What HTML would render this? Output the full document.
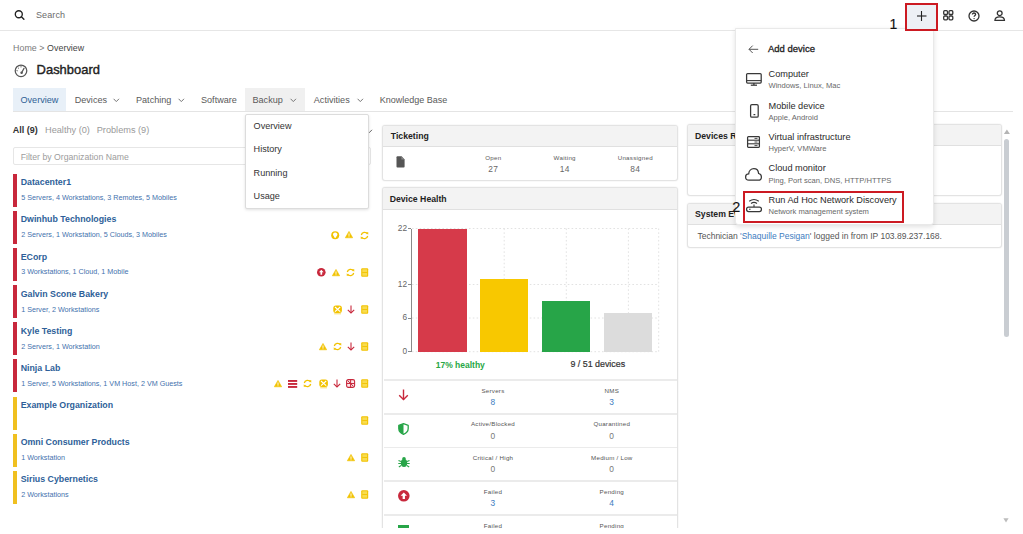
<!DOCTYPE html><html><head><meta charset="utf-8"><style>
html,body{margin:0;padding:0;background:#fff;}
body{width:1023px;height:534px;overflow:hidden;position:relative;font-family:"Liberation Sans",sans-serif;}
.t{position:absolute;white-space:nowrap;}
.r{position:absolute;}
svg.r{overflow:visible}
</style></head><body>
<svg class="r" style="left:13.00px;top:8.00px" width="14" height="14" viewBox="0 0 14 14"><circle cx="5.8" cy="6.2" r="3.5" fill="none" stroke="#222" stroke-width="1.35"/><line x1="8.4" y1="8.8" x2="10.9" y2="11.3" stroke="#222" stroke-width="1.4" stroke-linecap="round"/></svg>
<div class="t" style="left:36.00px;top:11.18px;font-size:9px;line-height:9px;color:#6b6b6b;font-weight:normal;letter-spacing:0.1px;">Search</div>
<div class="r" style="left:0.00px;top:30.00px;width:1023.00px;height:1.00px;background:#e6e6e6"></div>
<svg class="r" style="left:942.50px;top:10.20px" width="11" height="11" viewBox="0 0 11 11"><rect x="0.7" y="0.7" width="3.8" height="3.8" rx="1" fill="none" stroke="#333" stroke-width="1.3"/><rect x="6" y="0.7" width="3.8" height="3.8" rx="1" fill="none" stroke="#333" stroke-width="1.3"/><rect x="0.7" y="6" width="3.8" height="3.8" rx="1" fill="none" stroke="#333" stroke-width="1.3"/><rect x="6" y="6" width="3.8" height="3.8" rx="1" fill="none" stroke="#333" stroke-width="1.3"/></svg>
<svg class="r" style="left:967.50px;top:10.00px" width="12" height="12" viewBox="0 0 12 12"><circle cx="6" cy="6" r="5" fill="none" stroke="#333" stroke-width="1.3"/><path d="M4.4 4.6 C4.4 3.5 5.1 3 6 3 C6.9 3 7.6 3.6 7.6 4.4 C7.6 5.4 6.1 5.6 6.1 6.8" fill="none" stroke="#333" stroke-width="1.3"/><circle cx="6.1" cy="8.6" r="0.7" fill="#333"/></svg>
<svg class="r" style="left:994.00px;top:10.00px" width="12" height="12" viewBox="0 0 12 12"><circle cx="5.7" cy="3.2" r="2.4" fill="none" stroke="#333" stroke-width="1.3"/><path d="M0.9 10.4 C0.9 7.6 3 6.8 5.7 6.8 C8.4 6.8 10.5 7.6 10.5 10.4 Z" fill="none" stroke="#333" stroke-width="1.3" stroke-linejoin="round"/></svg>
<div class="t" style="left:13.00px;top:44.11px;font-size:8.85px;line-height:8.85px;color:#444;font-weight:normal;letter-spacing:0.05px;"><span style="color:#7a7a7a">Home &gt;</span> Overview</div>
<svg class="r" style="left:13.50px;top:63.50px" width="14" height="14" viewBox="0 0 14 14"><circle cx="7" cy="6.8" r="5.8" fill="none" stroke="#555" stroke-width="1.25"/><line x1="7.6" y1="8.8" x2="10" y2="4.4" stroke="#555" stroke-width="1.2" stroke-linecap="round"/><circle cx="7.6" cy="8.8" r="1.25" fill="#555"/><line x1="7" y1="2.2" x2="7" y2="3.4" stroke="#555" stroke-width="1"/><line x1="4.2" y1="3.9" x2="5" y2="4.6" stroke="#555" stroke-width="1"/><line x1="2.5" y1="6.6" x2="3.7" y2="6.8" stroke="#555" stroke-width="1"/></svg>
<div class="t" style="left:36.60px;top:64.04px;font-size:12.95px;line-height:12.95px;color:#222;font-weight:normal;letter-spacing:0px;-webkit-text-stroke:0.4px #222">Dashboard</div>
<div class="r" style="left:13.00px;top:111.00px;width:1000.00px;height:1.00px;background:#e4e4e4"></div>
<div class="r" style="left:13.00px;top:88.40px;width:53.30px;height:22.60px;background:#e8f0f8"></div>
<div class="r" style="left:245.40px;top:88.00px;width:59.60px;height:23.00px;background:#f0f0f0"></div>
<div class="t" style="left:20.50px;top:96.40px;font-size:9.1px;line-height:9.1px;color:#2e5f95;font-weight:normal;letter-spacing:0px;">Overview</div>
<div class="t" style="left:74.70px;top:96.40px;font-size:9.1px;line-height:9.1px;color:#5a5a5a;font-weight:normal;letter-spacing:0px;">Devices</div>
<svg class="r" style="left:113.00px;top:98.00px" width="7" height="5" viewBox="0 0 7 5"><polyline points="0.6,0.8 3.3,3.6 6,0.8" fill="none" stroke="#777" stroke-width="1"/></svg>
<div class="t" style="left:136.00px;top:96.40px;font-size:9.1px;line-height:9.1px;color:#5a5a5a;font-weight:normal;letter-spacing:0px;">Patching</div>
<svg class="r" style="left:178.00px;top:98.00px" width="7" height="5" viewBox="0 0 7 5"><polyline points="0.6,0.8 3.3,3.6 6,0.8" fill="none" stroke="#777" stroke-width="1"/></svg>
<div class="t" style="left:201.00px;top:96.40px;font-size:9.1px;line-height:9.1px;color:#5a5a5a;font-weight:normal;letter-spacing:0px;">Software</div>
<div class="t" style="left:252.50px;top:96.40px;font-size:9.1px;line-height:9.1px;color:#5a5a5a;font-weight:normal;letter-spacing:0px;">Backup</div>
<svg class="r" style="left:290.30px;top:98.00px" width="7" height="5" viewBox="0 0 7 5"><polyline points="0.6,0.8 3.3,3.6 6,0.8" fill="none" stroke="#777" stroke-width="1"/></svg>
<div class="t" style="left:313.80px;top:96.40px;font-size:9.1px;line-height:9.1px;color:#5a5a5a;font-weight:normal;letter-spacing:0px;">Activities</div>
<svg class="r" style="left:357.00px;top:98.00px" width="7" height="5" viewBox="0 0 7 5"><polyline points="0.6,0.8 3.3,3.6 6,0.8" fill="none" stroke="#777" stroke-width="1"/></svg>
<div class="t" style="left:379.80px;top:96.48px;font-size:9.0px;line-height:9.0px;color:#5a5a5a;font-weight:normal;letter-spacing:0px;">Knowledge Base</div>
<div class="t" style="left:12.70px;top:125.98px;font-size:9px;line-height:9px;color:#333;font-weight:bold;letter-spacing:0px;">All (9)</div>
<div class="t" style="left:45.00px;top:125.81px;font-size:9.2px;line-height:9.2px;color:#9a9a9a;font-weight:normal;letter-spacing:0px;">Healthy (0)</div>
<div class="t" style="left:96.70px;top:125.81px;font-size:9.2px;line-height:9.2px;color:#9a9a9a;font-weight:normal;letter-spacing:0px;">Problems (9)</div>
<svg class="r" style="left:365.50px;top:128.50px" width="7" height="5" viewBox="0 0 7 5"><polyline points="0.6,0.8 3.3,3.6 6,0.8" fill="none" stroke="#666" stroke-width="1"/></svg>
<div class="r" style="left:12.70px;top:147.20px;width:358.70px;height:18.20px;box-sizing:border-box;border:1px solid #e6e6e6;border-radius:2px;background:#fff"></div>
<div class="t" style="left:20.70px;top:152.64px;font-size:8.7px;line-height:8.7px;color:#9d9d9d;font-weight:normal;letter-spacing:0px;">Filter by Organization Name</div>
<div class="r" style="left:12.90px;top:173.90px;width:4.10px;height:33.00px;background:#c8283c"></div>
<div class="t" style="left:20.70px;top:178.35px;font-size:8.8px;line-height:8.8px;color:#2e5f99;font-weight:bold;letter-spacing:0px;">Datacenter1</div>
<div class="t" style="left:21.20px;top:194.21px;font-size:7.2px;line-height:7.2px;color:#3f71ad;font-weight:normal;letter-spacing:0px;">5 Servers, 4 Workstations, 3 Remotes, 5 Mobiles</div>
<div class="r" style="left:12.90px;top:211.00px;width:4.10px;height:33.00px;background:#c8283c"></div>
<div class="t" style="left:20.70px;top:215.45px;font-size:8.8px;line-height:8.8px;color:#2e5f99;font-weight:bold;letter-spacing:0px;">Dwinhub Technologies</div>
<div class="t" style="left:21.20px;top:231.31px;font-size:7.2px;line-height:7.2px;color:#3f71ad;font-weight:normal;letter-spacing:0px;">2 Servers, 1 Workstation, 5 Clouds, 3 Mobiles</div>
<div class="r" style="left:12.90px;top:248.10px;width:4.10px;height:33.00px;background:#c8283c"></div>
<div class="t" style="left:20.70px;top:252.55px;font-size:8.8px;line-height:8.8px;color:#2e5f99;font-weight:bold;letter-spacing:0px;">ECorp</div>
<div class="t" style="left:21.20px;top:268.41px;font-size:7.2px;line-height:7.2px;color:#3f71ad;font-weight:normal;letter-spacing:0px;">3 Workstations, 1 Cloud, 1 Mobile</div>
<div class="r" style="left:12.90px;top:285.20px;width:4.10px;height:33.00px;background:#c8283c"></div>
<div class="t" style="left:20.70px;top:289.65px;font-size:8.8px;line-height:8.8px;color:#2e5f99;font-weight:bold;letter-spacing:0px;">Galvin Scone Bakery</div>
<div class="t" style="left:21.20px;top:305.51px;font-size:7.2px;line-height:7.2px;color:#3f71ad;font-weight:normal;letter-spacing:0px;">1 Server, 2 Workstations</div>
<div class="r" style="left:12.90px;top:322.30px;width:4.10px;height:33.00px;background:#c8283c"></div>
<div class="t" style="left:20.70px;top:326.75px;font-size:8.8px;line-height:8.8px;color:#2e5f99;font-weight:bold;letter-spacing:0px;">Kyle Testing</div>
<div class="t" style="left:21.20px;top:342.61px;font-size:7.2px;line-height:7.2px;color:#3f71ad;font-weight:normal;letter-spacing:0px;">2 Servers, 1 Workstation</div>
<div class="r" style="left:12.90px;top:359.40px;width:4.10px;height:33.00px;background:#c8283c"></div>
<div class="t" style="left:20.70px;top:363.85px;font-size:8.8px;line-height:8.8px;color:#2e5f99;font-weight:bold;letter-spacing:0px;">Ninja Lab</div>
<div class="t" style="left:21.20px;top:379.71px;font-size:7.2px;line-height:7.2px;color:#3f71ad;font-weight:normal;letter-spacing:0px;">1 Server, 5 Workstations, 1 VM Host, 2 VM Guests</div>
<div class="r" style="left:12.90px;top:396.50px;width:4.10px;height:33.00px;background:#f0c020"></div>
<div class="t" style="left:20.70px;top:400.95px;font-size:8.8px;line-height:8.8px;color:#2e5f99;font-weight:bold;letter-spacing:0px;">Example Organization</div>
<div class="r" style="left:12.90px;top:433.60px;width:4.10px;height:33.00px;background:#f0c020"></div>
<div class="t" style="left:20.70px;top:438.05px;font-size:8.8px;line-height:8.8px;color:#2e5f99;font-weight:bold;letter-spacing:0px;">Omni Consumer Products</div>
<div class="t" style="left:21.20px;top:453.91px;font-size:7.2px;line-height:7.2px;color:#3f71ad;font-weight:normal;letter-spacing:0px;">1 Workstation</div>
<div class="r" style="left:12.90px;top:470.70px;width:4.10px;height:33.00px;background:#f0c020"></div>
<div class="t" style="left:20.70px;top:475.15px;font-size:8.8px;line-height:8.8px;color:#2e5f99;font-weight:bold;letter-spacing:0px;">Sirius Cybernetics</div>
<div class="t" style="left:21.20px;top:491.01px;font-size:7.2px;line-height:7.2px;color:#3f71ad;font-weight:normal;letter-spacing:0px;">2 Workstations</div>
<svg class="r" style="left:330.50px;top:231.00px" width="9" height="9" viewBox="0 0 9 9"><circle cx="4.2" cy="4.2" r="4" fill="#f2c200"/><path d="M4.2 1.6 C5.7 1.6 6.4 2.6 6.4 3.6 C6.4 4.6 5.2 5.4 4.9 6.7 L3.5 6.7 C3.2 5.4 2 4.6 2 3.6 C2 2.6 2.7 1.6 4.2 1.6 Z" fill="#fff"/></svg>
<svg class="r" style="left:345.30px;top:231.40px" width="8" height="7.2" viewBox="0 0 8 7.2"><path d="M4 0.4 L7.7 6.8 L0.3 6.8 Z" fill="#f2c200" stroke="#f2c200" stroke-width="0.6" stroke-linejoin="round"/><rect x="3.55" y="2.4" width="0.9" height="2.5" fill="#fff"/><rect x="3.55" y="5.4" width="0.9" height="0.8" fill="#fff"/></svg>
<svg class="r" style="left:359.70px;top:230.70px" width="9" height="9" viewBox="0 0 9 9"><path d="M1.3 4 A3.3 3.3 0 0 1 7.4 3" fill="none" stroke="#f2c200" stroke-width="1.3"/><path d="M7.7 5 A3.3 3.3 0 0 1 1.6 6" fill="none" stroke="#f2c200" stroke-width="1.3"/><path d="M6 1.3 L8.3 1.2 L8.2 3.7 Z" fill="#f2c200"/><path d="M3 7.7 L0.7 7.8 L0.8 5.3 Z" fill="#f2c200"/></svg>
<svg class="r" style="left:316.60px;top:268.00px" width="8.6" height="8.6" viewBox="0 0 8.6 8.6"><circle cx="4.3" cy="4.3" r="4.3" fill="#c8283c"/><path d="M4.3 1.8059999999999998 L6.665 4.3 L5.159999999999999 4.3 L5.159999999999999 6.665 L3.44 6.665 L3.44 4.3 L1.935 4.3 Z" fill="#fff"/></svg>
<svg class="r" style="left:331.70px;top:268.50px" width="8" height="7.2" viewBox="0 0 8 7.2"><path d="M4 0.4 L7.7 6.8 L0.3 6.8 Z" fill="#f2c200" stroke="#f2c200" stroke-width="0.6" stroke-linejoin="round"/><rect x="3.55" y="2.4" width="0.9" height="2.5" fill="#fff"/><rect x="3.55" y="5.4" width="0.9" height="0.8" fill="#fff"/></svg>
<svg class="r" style="left:346.10px;top:267.80px" width="9" height="9" viewBox="0 0 9 9"><path d="M1.3 4 A3.3 3.3 0 0 1 7.4 3" fill="none" stroke="#f2c200" stroke-width="1.3"/><path d="M7.7 5 A3.3 3.3 0 0 1 1.6 6" fill="none" stroke="#f2c200" stroke-width="1.3"/><path d="M6 1.3 L8.3 1.2 L8.2 3.7 Z" fill="#f2c200"/><path d="M3 7.7 L0.7 7.8 L0.8 5.3 Z" fill="#f2c200"/></svg>
<svg class="r" style="left:361.00px;top:267.80px" width="8" height="9" viewBox="0 0 8 9"><rect x="0.2" y="0.2" width="7" height="8.6" rx="1" fill="#f2c200"/><rect x="1.3" y="1.3" width="4.8" height="6.4" fill="#f8dc50"/><line x1="1.3" y1="4.5" x2="6.1" y2="4.5" stroke="#f2c200" stroke-width="0.9"/></svg>
<svg class="r" style="left:332.80px;top:305.10px" width="10" height="9" viewBox="0 0 10 9"><rect x="0.3" y="0.5" width="8.6" height="7.6" rx="2.5" fill="#f2c200"/><path d="M2 2 L7.2 6.6 M7.2 2 L2 6.6" stroke="#fff" stroke-width="1.1"/><line x1="1.2" y1="8.8" x2="8" y2="8.8" stroke="#f2c200" stroke-width="0.6"/></svg>
<svg class="r" style="left:347.30px;top:304.90px" width="8" height="9" viewBox="0 0 8 9"><line x1="4" y1="0.5" x2="4" y2="8" stroke="#c8283c" stroke-width="1.1"/><polyline points="0.8,4.8 4,8 7.2,4.8" fill="none" stroke="#c8283c" stroke-width="1.1"/></svg>
<svg class="r" style="left:361.00px;top:304.90px" width="8" height="9" viewBox="0 0 8 9"><rect x="0.2" y="0.2" width="7" height="8.6" rx="1" fill="#f2c200"/><rect x="1.3" y="1.3" width="4.8" height="6.4" fill="#f8dc50"/><line x1="1.3" y1="4.5" x2="6.1" y2="4.5" stroke="#f2c200" stroke-width="0.9"/></svg>
<svg class="r" style="left:318.80px;top:342.70px" width="8" height="7.2" viewBox="0 0 8 7.2"><path d="M4 0.4 L7.7 6.8 L0.3 6.8 Z" fill="#f2c200" stroke="#f2c200" stroke-width="0.6" stroke-linejoin="round"/><rect x="3.55" y="2.4" width="0.9" height="2.5" fill="#fff"/><rect x="3.55" y="5.4" width="0.9" height="0.8" fill="#fff"/></svg>
<svg class="r" style="left:333.10px;top:342.00px" width="9" height="9" viewBox="0 0 9 9"><path d="M1.3 4 A3.3 3.3 0 0 1 7.4 3" fill="none" stroke="#f2c200" stroke-width="1.3"/><path d="M7.7 5 A3.3 3.3 0 0 1 1.6 6" fill="none" stroke="#f2c200" stroke-width="1.3"/><path d="M6 1.3 L8.3 1.2 L8.2 3.7 Z" fill="#f2c200"/><path d="M3 7.7 L0.7 7.8 L0.8 5.3 Z" fill="#f2c200"/></svg>
<svg class="r" style="left:347.30px;top:342.00px" width="8" height="9" viewBox="0 0 8 9"><line x1="4" y1="0.5" x2="4" y2="8" stroke="#c8283c" stroke-width="1.1"/><polyline points="0.8,4.8 4,8 7.2,4.8" fill="none" stroke="#c8283c" stroke-width="1.1"/></svg>
<svg class="r" style="left:361.00px;top:342.00px" width="8" height="9" viewBox="0 0 8 9"><rect x="0.2" y="0.2" width="7" height="8.6" rx="1" fill="#f2c200"/><rect x="1.3" y="1.3" width="4.8" height="6.4" fill="#f8dc50"/><line x1="1.3" y1="4.5" x2="6.1" y2="4.5" stroke="#f2c200" stroke-width="0.9"/></svg>
<svg class="r" style="left:274.00px;top:379.80px" width="8" height="7.2" viewBox="0 0 8 7.2"><path d="M4 0.4 L7.7 6.8 L0.3 6.8 Z" fill="#f2c200" stroke="#f2c200" stroke-width="0.6" stroke-linejoin="round"/><rect x="3.55" y="2.4" width="0.9" height="2.5" fill="#fff"/><rect x="3.55" y="5.4" width="0.9" height="0.8" fill="#fff"/></svg>
<svg class="r" style="left:288.00px;top:379.80px" width="9.2" height="8" viewBox="0 0 9.2 8"><rect x="0" y="0" width="9.2" height="1.9" fill="#c8283c"/><rect x="0" y="3" width="9.2" height="1.9" fill="#c8283c"/><rect x="0" y="6" width="9.2" height="1.9" fill="#c8283c"/></svg>
<svg class="r" style="left:303.40px;top:379.10px" width="9" height="9" viewBox="0 0 9 9"><path d="M1.3 4 A3.3 3.3 0 0 1 7.4 3" fill="none" stroke="#f2c200" stroke-width="1.3"/><path d="M7.7 5 A3.3 3.3 0 0 1 1.6 6" fill="none" stroke="#f2c200" stroke-width="1.3"/><path d="M6 1.3 L8.3 1.2 L8.2 3.7 Z" fill="#f2c200"/><path d="M3 7.7 L0.7 7.8 L0.8 5.3 Z" fill="#f2c200"/></svg>
<svg class="r" style="left:318.90px;top:379.30px" width="10" height="9" viewBox="0 0 10 9"><rect x="0.3" y="0.5" width="8.6" height="7.6" rx="2.5" fill="#f2c200"/><path d="M2 2 L7.2 6.6 M7.2 2 L2 6.6" stroke="#fff" stroke-width="1.1"/><line x1="1.2" y1="8.8" x2="8" y2="8.8" stroke="#f2c200" stroke-width="0.6"/></svg>
<svg class="r" style="left:332.50px;top:379.10px" width="8" height="9" viewBox="0 0 8 9"><line x1="4" y1="0.5" x2="4" y2="8" stroke="#c8283c" stroke-width="1.1"/><polyline points="0.8,4.8 4,8 7.2,4.8" fill="none" stroke="#c8283c" stroke-width="1.1"/></svg>
<svg class="r" style="left:345.70px;top:379.10px" width="9.2" height="9" viewBox="0 0 9.2 9"><rect x="0.6" y="0.6" width="8" height="7.8" rx="1.6" fill="#fbe6e9" stroke="#c8283c" stroke-width="1.1"/><path d="M4.6 0.6 V8.4 M0.6 4.5 H8.6 M1.5 1.5 L4.6 4.5 L7.6 7.5" stroke="#c8283c" stroke-width="1"/></svg>
<svg class="r" style="left:360.90px;top:379.10px" width="8" height="9" viewBox="0 0 8 9"><rect x="0.2" y="0.2" width="7" height="8.6" rx="1" fill="#f2c200"/><rect x="1.3" y="1.3" width="4.8" height="6.4" fill="#f8dc50"/><line x1="1.3" y1="4.5" x2="6.1" y2="4.5" stroke="#f2c200" stroke-width="0.9"/></svg>
<svg class="r" style="left:360.90px;top:416.20px" width="8" height="9" viewBox="0 0 8 9"><rect x="0.2" y="0.2" width="7" height="8.6" rx="1" fill="#f2c200"/><rect x="1.3" y="1.3" width="4.8" height="6.4" fill="#f8dc50"/><line x1="1.3" y1="4.5" x2="6.1" y2="4.5" stroke="#f2c200" stroke-width="0.9"/></svg>
<svg class="r" style="left:346.80px;top:454.00px" width="8" height="7.2" viewBox="0 0 8 7.2"><path d="M4 0.4 L7.7 6.8 L0.3 6.8 Z" fill="#f2c200" stroke="#f2c200" stroke-width="0.6" stroke-linejoin="round"/><rect x="3.55" y="2.4" width="0.9" height="2.5" fill="#fff"/><rect x="3.55" y="5.4" width="0.9" height="0.8" fill="#fff"/></svg>
<svg class="r" style="left:360.90px;top:453.30px" width="8" height="9" viewBox="0 0 8 9"><rect x="0.2" y="0.2" width="7" height="8.6" rx="1" fill="#f2c200"/><rect x="1.3" y="1.3" width="4.8" height="6.4" fill="#f8dc50"/><line x1="1.3" y1="4.5" x2="6.1" y2="4.5" stroke="#f2c200" stroke-width="0.9"/></svg>
<svg class="r" style="left:346.80px;top:491.10px" width="8" height="7.2" viewBox="0 0 8 7.2"><path d="M4 0.4 L7.7 6.8 L0.3 6.8 Z" fill="#f2c200" stroke="#f2c200" stroke-width="0.6" stroke-linejoin="round"/><rect x="3.55" y="2.4" width="0.9" height="2.5" fill="#fff"/><rect x="3.55" y="5.4" width="0.9" height="0.8" fill="#fff"/></svg>
<svg class="r" style="left:360.90px;top:490.40px" width="8" height="9" viewBox="0 0 8 9"><rect x="0.2" y="0.2" width="7" height="8.6" rx="1" fill="#f2c200"/><rect x="1.3" y="1.3" width="4.8" height="6.4" fill="#f8dc50"/><line x1="1.3" y1="4.5" x2="6.1" y2="4.5" stroke="#f2c200" stroke-width="0.9"/></svg>
<div class="r" style="left:382.20px;top:124.60px;width:295.80px;height:56.00px;box-sizing:border-box;border:1px solid #e3e3e3;border-radius:3px;background:#fff;box-shadow:0 0 1.5px rgba(0,0,0,0.12)"></div>
<div class="r" style="left:383.20px;top:125.60px;width:293.80px;height:20.40px;background:#f3f3f3;border-bottom:1px solid #e0e0e0;border-radius:2px 2px 0 0"></div>
<div class="t" style="left:390.80px;top:132.24px;font-size:8.7px;line-height:8.7px;color:#222;font-weight:bold;letter-spacing:0px;">Ticketing</div>
<svg class="r" style="left:396.00px;top:155.50px" width="9" height="12" viewBox="0 0 9 12"><path d="M0.5 1.2 Q0.5 0.3 1.4 0.3 L5.6 0.3 L8.6 3.4 L8.6 10.6 Q8.6 11.5 7.7 11.5 L1.4 11.5 Q0.5 11.5 0.5 10.6 Z" fill="#555"/><path d="M5.4 0.3 L5.4 3.6 L8.6 3.6" fill="#888"/></svg>
<div class="t" style="left:393.30px;width:200px;text-align:center;top:154.75px;font-size:6.2px;line-height:6.2px;color:#5a5a5a;font-weight:normal;letter-spacing:0.25px;">Open</div>
<div class="t" style="left:393.30px;width:200px;text-align:center;top:164.89px;font-size:8.4px;line-height:8.4px;color:#676767;font-weight:normal;letter-spacing:0.4px;">27</div>
<div class="t" style="left:464.70px;width:200px;text-align:center;top:154.75px;font-size:6.2px;line-height:6.2px;color:#5a5a5a;font-weight:normal;letter-spacing:0.25px;">Waiting</div>
<div class="t" style="left:464.70px;width:200px;text-align:center;top:164.89px;font-size:8.4px;line-height:8.4px;color:#676767;font-weight:normal;letter-spacing:0.4px;">14</div>
<div class="t" style="left:535.30px;width:200px;text-align:center;top:154.75px;font-size:6.2px;line-height:6.2px;color:#5a5a5a;font-weight:normal;letter-spacing:0.25px;">Unassigned</div>
<div class="t" style="left:535.30px;width:200px;text-align:center;top:164.89px;font-size:8.4px;line-height:8.4px;color:#676767;font-weight:normal;letter-spacing:0.4px;">84</div>
<div class="r" style="left:382.20px;top:187.20px;width:295.80px;height:372.80px;box-sizing:border-box;border:1px solid #e3e3e3;border-radius:3px;background:#fff;box-shadow:0 0 1.5px rgba(0,0,0,0.12)"></div>
<div class="r" style="left:383.20px;top:188.20px;width:293.80px;height:21.20px;background:#f3f3f3;border-bottom:1px solid #e0e0e0;border-radius:2px 2px 0 0"></div>
<div class="t" style="left:389.70px;top:194.84px;font-size:8.7px;line-height:8.7px;color:#222;font-weight:bold;letter-spacing:0px;">Device Health</div>
<svg class="r" style="left:0.00px;top:0.00px" width="1023" height="534" viewBox="0 0 1023 534"><g stroke="#e2e2e2" stroke-width="1" stroke-dasharray="1.6,2.2"><line x1="412" y1="228.5" x2="658.7" y2="228.5"/><line x1="412" y1="284.5" x2="658.7" y2="284.5"/><line x1="412" y1="318.0" x2="658.7" y2="318.0"/><line x1="412" y1="351.7" x2="658.7" y2="351.7"/><line x1="504.2" y1="228.5" x2="504.2" y2="351.7"/><line x1="566.3" y1="228.5" x2="566.3" y2="351.7"/><line x1="628.4" y1="228.5" x2="628.4" y2="351.7"/><line x1="658.7" y1="228.5" x2="658.7" y2="351.7"/></g></svg>
<div class="r" style="left:418.20px;top:228.50px;width:48.40px;height:123.20px;background:#d63a4a"></div>
<div class="r" style="left:479.70px;top:278.50px;width:48.30px;height:73.20px;background:#f8c800"></div>
<div class="r" style="left:541.80px;top:301.40px;width:48.40px;height:50.30px;background:#27a548"></div>
<div class="r" style="left:603.60px;top:312.50px;width:48.10px;height:39.20px;background:#dcdcdc"></div>
<div class="r" style="left:411.00px;top:228.50px;width:1.00px;height:123.50px;background:#8a8a8a"></div>
<div class="r" style="left:408.30px;top:228.00px;width:3.20px;height:1.00px;background:#8a8a8a"></div>
<div class="t" style="left:357px;width:50px;text-align:right;top:223.90px;font-size:8.3px;line-height:9px;color:#666">22</div>
<div class="r" style="left:408.30px;top:284.00px;width:3.20px;height:1.00px;background:#8a8a8a"></div>
<div class="t" style="left:357px;width:50px;text-align:right;top:279.90px;font-size:8.3px;line-height:9px;color:#666">12</div>
<div class="r" style="left:408.30px;top:317.50px;width:3.20px;height:1.00px;background:#8a8a8a"></div>
<div class="t" style="left:357px;width:50px;text-align:right;top:313.40px;font-size:8.3px;line-height:9px;color:#666">6</div>
<div class="r" style="left:408.30px;top:351.20px;width:3.20px;height:1.00px;background:#8a8a8a"></div>
<div class="t" style="left:357px;width:50px;text-align:right;top:347.10px;font-size:8.3px;line-height:9px;color:#666">0</div>
<div class="t" style="left:435.70px;top:360.80px;font-size:8.5px;line-height:8.5px;color:#28a745;font-weight:bold;letter-spacing:0px;">17% healthy</div>
<div class="t" style="left:570.40px;top:360.47px;font-size:8.9px;line-height:8.9px;color:#333;font-weight:normal;letter-spacing:0px;-webkit-text-stroke:0.2px #333">9 / 51 devices</div>
<div class="r" style="left:384.00px;top:379.10px;width:293.00px;height:1.60px;background:#ebebeb"></div>
<div class="r" style="left:384.00px;top:413.00px;width:293.00px;height:1.60px;background:#ebebeb"></div>
<div class="r" style="left:384.00px;top:446.80px;width:293.00px;height:1.60px;background:#ebebeb"></div>
<div class="r" style="left:384.00px;top:480.40px;width:293.00px;height:1.60px;background:#ebebeb"></div>
<div class="r" style="left:384.00px;top:514.20px;width:293.00px;height:1.60px;background:#ebebeb"></div>
<div class="t" style="left:393.00px;width:200px;text-align:center;top:387.75px;font-size:6.2px;line-height:6.2px;color:#555;font-weight:normal;letter-spacing:0.25px;">Servers</div>
<div class="t" style="left:511.80px;width:200px;text-align:center;top:387.75px;font-size:6.2px;line-height:6.2px;color:#555;font-weight:normal;letter-spacing:0.25px;">NMS</div>
<div class="t" style="left:393.00px;width:200px;text-align:center;top:398.19px;font-size:8.4px;line-height:8.4px;color:#3d7cc0;font-weight:normal;letter-spacing:0.3px;">8</div>
<div class="t" style="left:511.80px;width:200px;text-align:center;top:398.19px;font-size:8.4px;line-height:8.4px;color:#3d7cc0;font-weight:normal;letter-spacing:0.3px;">3</div>
<div class="t" style="left:393.00px;width:200px;text-align:center;top:421.35px;font-size:6.2px;line-height:6.2px;color:#555;font-weight:normal;letter-spacing:0.25px;">Active/Blocked</div>
<div class="t" style="left:511.80px;width:200px;text-align:center;top:421.35px;font-size:6.2px;line-height:6.2px;color:#555;font-weight:normal;letter-spacing:0.25px;">Quarantined</div>
<div class="t" style="left:393.00px;width:200px;text-align:center;top:431.79px;font-size:8.4px;line-height:8.4px;color:#777;font-weight:normal;letter-spacing:0.3px;">0</div>
<div class="t" style="left:511.80px;width:200px;text-align:center;top:431.79px;font-size:8.4px;line-height:8.4px;color:#777;font-weight:normal;letter-spacing:0.3px;">0</div>
<div class="t" style="left:393.00px;width:200px;text-align:center;top:454.95px;font-size:6.2px;line-height:6.2px;color:#555;font-weight:normal;letter-spacing:0.25px;">Critical / High</div>
<div class="t" style="left:511.80px;width:200px;text-align:center;top:454.95px;font-size:6.2px;line-height:6.2px;color:#555;font-weight:normal;letter-spacing:0.25px;">Medium / Low</div>
<div class="t" style="left:393.00px;width:200px;text-align:center;top:465.39px;font-size:8.4px;line-height:8.4px;color:#777;font-weight:normal;letter-spacing:0.3px;">0</div>
<div class="t" style="left:511.80px;width:200px;text-align:center;top:465.39px;font-size:8.4px;line-height:8.4px;color:#777;font-weight:normal;letter-spacing:0.3px;">0</div>
<div class="t" style="left:393.00px;width:200px;text-align:center;top:488.55px;font-size:6.2px;line-height:6.2px;color:#555;font-weight:normal;letter-spacing:0.25px;">Failed</div>
<div class="t" style="left:511.80px;width:200px;text-align:center;top:488.55px;font-size:6.2px;line-height:6.2px;color:#555;font-weight:normal;letter-spacing:0.25px;">Pending</div>
<div class="t" style="left:393.00px;width:200px;text-align:center;top:498.99px;font-size:8.4px;line-height:8.4px;color:#3d7cc0;font-weight:normal;letter-spacing:0.3px;">3</div>
<div class="t" style="left:511.80px;width:200px;text-align:center;top:498.99px;font-size:8.4px;line-height:8.4px;color:#3d7cc0;font-weight:normal;letter-spacing:0.3px;">4</div>
<div class="t" style="left:393.00px;width:200px;text-align:center;top:523.05px;font-size:6.2px;line-height:6.2px;color:#555;font-weight:normal;letter-spacing:0.25px;">Failed</div>
<div class="t" style="left:511.80px;width:200px;text-align:center;top:523.05px;font-size:6.2px;line-height:6.2px;color:#555;font-weight:normal;letter-spacing:0.25px;">Pending</div>
<svg class="r" style="left:398.00px;top:389.00px" width="11" height="12" viewBox="0 0 11 12"><line x1="5.5" y1="0.5" x2="5.5" y2="10.6" stroke="#c8283c" stroke-width="1.4"/><polyline points="1.2,6.3 5.5,10.6 9.8,6.3" fill="none" stroke="#c8283c" stroke-width="1.4"/></svg>
<svg class="r" style="left:397.60px;top:422.60px" width="11" height="12" viewBox="0 0 11 12"><path d="M5.5 0.7 L10.2 2.4 L10.2 5.6 C10.2 8.4 8.2 10.3 5.5 11.3 C2.8 10.3 0.8 8.4 0.8 5.6 L0.8 2.4 Z" fill="#fff" stroke="#27a548" stroke-width="1.3" stroke-linejoin="round"/><path d="M5.5 0.7 L5.5 11.3 C2.8 10.3 0.8 8.4 0.8 5.6 L0.8 2.4 Z" fill="#27a548"/></svg>
<svg class="r" style="left:397.50px;top:456.00px" width="12" height="12" viewBox="0 0 12 12"><ellipse cx="6" cy="7" rx="3.2" ry="4" fill="#27a548"/><circle cx="6" cy="2.8" r="1.8" fill="#27a548"/><path d="M0.5 4.5 L3 5.5 M11.5 4.5 L9 5.5 M0.3 7.5 H3 M11.7 7.5 H9 M0.8 11 L3.2 9.5 M11.2 11 L8.8 9.5" stroke="#27a548" stroke-width="1.1"/></svg>
<svg class="r" style="left:397.70px;top:489.80px" width="11.6" height="11.6" viewBox="0 0 11.6 11.6"><circle cx="5.8" cy="5.8" r="5.8" fill="#c8283c"/><path d="M5.8 2.436 L8.99 5.8 L6.96 5.8 L6.96 8.99 L4.64 8.99 L4.64 5.8 L2.61 5.8 Z" fill="#fff"/></svg>
<div class="r" style="left:397.50px;top:525.40px;width:11.50px;height:2.60px;background:#27a548"></div>
<div class="r" style="left:0.00px;top:527.60px;width:1000.00px;height:6.40px;background:#fff"></div>
<div class="r" style="left:687.20px;top:124.40px;width:314.60px;height:71.60px;box-sizing:border-box;border:1px solid #e3e3e3;border-radius:3px;background:#fff;box-shadow:0 0 1.5px rgba(0,0,0,0.12)"></div>
<div class="r" style="left:688.20px;top:125.40px;width:312.60px;height:20.00px;background:#f3f3f3;border-bottom:1px solid #e0e0e0;border-radius:2px 2px 0 0"></div>
<div class="t" style="left:695.00px;top:131.84px;font-size:8.7px;line-height:8.7px;color:#222;font-weight:bold;letter-spacing:0px;">Devices Report</div>
<div class="r" style="left:687.20px;top:202.50px;width:314.60px;height:45.90px;box-sizing:border-box;border:1px solid #e3e3e3;border-radius:3px;background:#fff;box-shadow:0 0 1.5px rgba(0,0,0,0.12)"></div>
<div class="r" style="left:688.20px;top:203.50px;width:312.60px;height:20.10px;background:#f3f3f3;border-bottom:1px solid #e0e0e0;border-radius:2px 2px 0 0"></div>
<div class="t" style="left:695.00px;top:210.04px;font-size:8.7px;line-height:8.7px;color:#222;font-weight:bold;letter-spacing:0px;">System Events</div>
<div class="t" style="left:697.40px;top:232.49px;font-size:8.52px;line-height:8.52px;color:#555;font-weight:normal;letter-spacing:0px;">Technician <span style="color:#3d7cc0">'Shaquille Pesigan</span>' logged in from IP 103.89.237.168.</div>
<svg class="r" style="left:1003.00px;top:128.60px" width="8" height="6" viewBox="0 0 8 6"><path d="M3.9 0.4 L6.9 5 L0.9 5 Z" fill="#b4b4b4"/></svg>
<div class="r" style="left:1004.00px;top:138.70px;width:5.30px;height:198.30px;background:#c9cdd2;border-radius:2.6px"></div>
<svg class="r" style="left:1003.40px;top:517.60px" width="7" height="6" viewBox="0 0 7 6"><path d="M0.4 0.3 L5.6 0.3 L3 4.6 Z" fill="#bcbcbc"/></svg>
<div class="r" style="left:245.00px;top:113.80px;width:123.80px;height:94.80px;box-sizing:border-box;border:1px solid #dcdcdc;border-radius:2px;background:#fff;box-shadow:0 1px 3px rgba(0,0,0,0.12)"></div>
<div class="t" style="left:253.60px;top:121.90px;font-size:9.1px;line-height:9.1px;color:#333;font-weight:normal;letter-spacing:0px;">Overview</div>
<div class="t" style="left:253.60px;top:145.25px;font-size:9.1px;line-height:9.1px;color:#333;font-weight:normal;letter-spacing:0px;">History</div>
<div class="t" style="left:253.60px;top:168.60px;font-size:9.1px;line-height:9.1px;color:#333;font-weight:normal;letter-spacing:0px;">Running</div>
<div class="t" style="left:253.60px;top:191.95px;font-size:9.1px;line-height:9.1px;color:#333;font-weight:normal;letter-spacing:0px;">Usage</div>
<div class="r" style="left:735.40px;top:27.80px;width:198.20px;height:197.70px;box-sizing:border-box;border:1px solid #e9e9e9;border-radius:0 0 3px 3px;background:#fff;box-shadow:0 2px 5px rgba(0,0,0,0.12)"></div>
<svg class="r" style="left:748.30px;top:44.50px" width="11" height="9" viewBox="0 0 11 9"><line x1="1" y1="4.3" x2="10.2" y2="4.3" stroke="#555" stroke-width="1"/><polyline points="4.7,0.6 1,4.3 4.7,8" fill="none" stroke="#555" stroke-width="1"/></svg>
<div class="t" style="left:768.00px;top:44.16px;font-size:9.5px;line-height:9.5px;color:#222;font-weight:normal;letter-spacing:0px;-webkit-text-stroke:0.3px #222">Add device</div>
<div class="t" style="left:768.50px;top:69.91px;font-size:9.2px;line-height:9.2px;color:#2a2a2a;font-weight:normal;letter-spacing:0px;">Computer</div>
<div class="t" style="left:768.50px;top:82.07px;font-size:7.6px;line-height:7.6px;color:#686868;font-weight:normal;letter-spacing:0px;">Windows, Linux, Mac</div>
<div class="t" style="left:768.50px;top:101.61px;font-size:9.2px;line-height:9.2px;color:#2a2a2a;font-weight:normal;letter-spacing:0px;">Mobile device</div>
<div class="t" style="left:768.50px;top:113.57px;font-size:7.6px;line-height:7.6px;color:#686868;font-weight:normal;letter-spacing:0px;">Apple, Android</div>
<div class="t" style="left:768.50px;top:132.81px;font-size:9.2px;line-height:9.2px;color:#2a2a2a;font-weight:normal;letter-spacing:0px;">Virtual infrastructure</div>
<div class="t" style="left:768.50px;top:144.97px;font-size:7.6px;line-height:7.6px;color:#686868;font-weight:normal;letter-spacing:0px;">HyperV, VMWare</div>
<div class="t" style="left:768.50px;top:164.21px;font-size:9.2px;line-height:9.2px;color:#2a2a2a;font-weight:normal;letter-spacing:0px;">Cloud monitor</div>
<div class="t" style="left:768.50px;top:176.57px;font-size:7.6px;line-height:7.6px;color:#686868;font-weight:normal;letter-spacing:0px;">Ping, Port scan, DNS, HTTP/HTTPS</div>
<div class="t" style="left:768.50px;top:195.91px;font-size:9.2px;line-height:9.2px;color:#2a2a2a;font-weight:normal;letter-spacing:0px;">Run Ad Hoc Network Discovery</div>
<div class="t" style="left:768.50px;top:207.77px;font-size:7.6px;line-height:7.6px;color:#686868;font-weight:normal;letter-spacing:0px;">Network management system</div>
<svg class="r" style="left:745.50px;top:72.50px" width="16" height="13" viewBox="0 0 16 13"><rect x="0.6" y="0.6" width="14.6" height="9.4" rx="1" fill="none" stroke="#383838" stroke-width="1.25"/><line x1="0.6" y1="7.6" x2="15.2" y2="7.6" stroke="#383838" stroke-width="1.1"/><line x1="7.9" y1="10" x2="7.9" y2="12" stroke="#383838" stroke-width="1.25"/><line x1="4.8" y1="12.2" x2="11" y2="12.2" stroke="#383838" stroke-width="1.25"/></svg>
<svg class="r" style="left:749.50px;top:103.50px" width="9" height="14" viewBox="0 0 9 14"><rect x="0.6" y="0.6" width="7.6" height="12.6" rx="1.3" fill="none" stroke="#383838" stroke-width="1.25"/><line x1="3.5" y1="10.6" x2="5.3" y2="10.6" stroke="#383838" stroke-width="1.25"/></svg>
<svg class="r" style="left:747.00px;top:136.00px" width="13" height="12" viewBox="0 0 13 12"><rect x="0.6" y="0.6" width="11.8" height="10.8" rx="0.8" fill="none" stroke="#383838" stroke-width="1.25"/><line x1="0.6" y1="4.2" x2="12.4" y2="4.2" stroke="#383838" stroke-width="1.1"/><line x1="0.6" y1="7.8" x2="12.4" y2="7.8" stroke="#383838" stroke-width="1.1"/><line x1="7.5" y1="2.4" x2="10.5" y2="2.4" stroke="#383838" stroke-width="0.9"/><line x1="7.5" y1="6" x2="10.5" y2="6" stroke="#383838" stroke-width="0.9"/><line x1="7.5" y1="9.6" x2="10.5" y2="9.6" stroke="#383838" stroke-width="0.9"/></svg>
<svg class="r" style="left:745.00px;top:167.50px" width="17" height="13" viewBox="0 0 17 13"><path d="M4 12.2 C1.9 12.2 0.6 10.8 0.6 9 C0.6 7.2 2 5.9 3.7 5.9 C3.9 3.1 6 0.7 8.8 0.7 C11.6 0.7 13.4 2.9 13.6 5.5 C15.3 5.8 16.4 7.2 16.4 8.9 C16.4 10.8 15 12.2 13.1 12.2 Z" fill="none" stroke="#383838" stroke-width="1.25"/></svg>
<svg class="r" style="left:746.00px;top:197.50px" width="16" height="15" viewBox="0 0 16 15"><rect x="0.6" y="9" width="14.8" height="4.5" rx="2" fill="none" stroke="#383838" stroke-width="1.25"/><line x1="3" y1="11.2" x2="4.6" y2="11.2" stroke="#383838" stroke-width="1.1"/><path d="M5 5.5 Q8 3.3 11 5.5" fill="none" stroke="#383838" stroke-width="1.1"/><path d="M3.2 3.2 Q8 -0.3 12.8 3.2" fill="none" stroke="#383838" stroke-width="1.1"/><line x1="8" y1="6.6" x2="8" y2="9" stroke="#383838" stroke-width="1.1"/></svg>
<div class="r" style="left:743.00px;top:190.80px;width:160.80px;height:32.00px;box-sizing:border-box;border:2.2px solid #cc1a22"></div>
<div class="r" style="left:905.00px;top:2.90px;width:33.20px;height:27.90px;background:#edf0f5;box-sizing:border-box;border:2.2px solid #cc1a22"></div>
<svg class="r" style="left:917.00px;top:10.50px" width="10" height="10" viewBox="0 0 10 10"><line x1="4.5" y1="0" x2="4.5" y2="10" stroke="#222" stroke-width="1.1"/><line x1="0" y1="5" x2="9.5" y2="5" stroke="#222" stroke-width="1.1"/></svg>
<div class="t" style="left:889.50px;top:17.45px;font-size:14px;line-height:14px;color:#111;font-weight:normal;letter-spacing:0px;-webkit-text-stroke:0.15px #111">1</div>
<div class="t" style="left:732.20px;top:199.93px;font-size:14.5px;line-height:14.5px;color:#111;font-weight:normal;letter-spacing:0px;-webkit-text-stroke:0.15px #111">2</div>
</body></html>
